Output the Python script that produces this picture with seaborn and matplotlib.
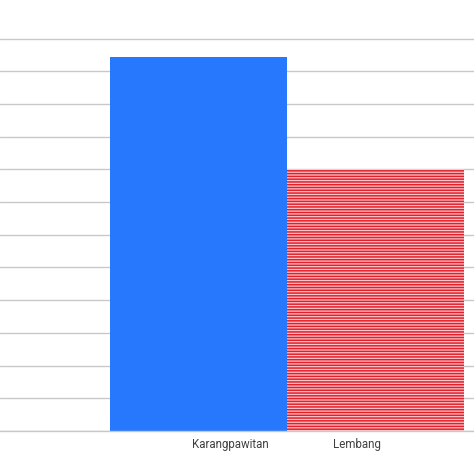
import matplotlib
matplotlib.use("Agg")
import matplotlib.pyplot as plt
import seaborn as sns
import pandas as pd

categories = ["Karangpawitan", "Lembang"]
values = [11.45, 8.0]
bar_colors = ["#2878FE", "#E8202A"]

sns.set_theme(style="white")
plt.rcParams['font.family'] = ['Roboto', 'DejaVu Sans']
plt.rcParams['hatch.linewidth'] = 1.1

df = pd.DataFrame({"cat": categories, "val": values})

fig = plt.figure(figsize=(4.74, 4.74), dpi=100)
ax = fig.add_axes([0, 1 - 431 / 474, 1, 431 / 474])

sns.barplot(data=df, x="cat", y="val", hue="cat", palette=bar_colors,
            width=1.0, legend=False, ax=ax, saturation=1)

patches = ax.patches
patches[0].set_linewidth(0)
patches[1].set_facecolor("#FFC4CA")
patches[1].set_edgecolor("#E0202A")
patches[1].set_hatch("------")
patches[1].set_linewidth(0)

ax.set_ylim(0, 13.18)
ax.set_xlim(-1.119, 1.559)
ax.set_yticks(range(0, 13))
ax.yaxis.grid(True, color="#C8C8C8", linewidth=1.0)
ax.set_axisbelow(True)
ax.set_yticklabels([])
ax.tick_params(axis="y", length=0)

ax.set_xticks([0.18, 0.90])
ax.set_xticklabels(categories, fontsize=8.3, color="#404040")
ax.tick_params(axis="x", length=0, pad=5)
ax.set_xlabel("")
ax.set_ylabel("")

for s in ["top", "right", "left"]:
    ax.spines[s].set_visible(False)
ax.spines["bottom"].set_color("#C8C8C8")
ax.spines["bottom"].set_linewidth(1.0)

fig.savefig("out.png", dpi=100)
